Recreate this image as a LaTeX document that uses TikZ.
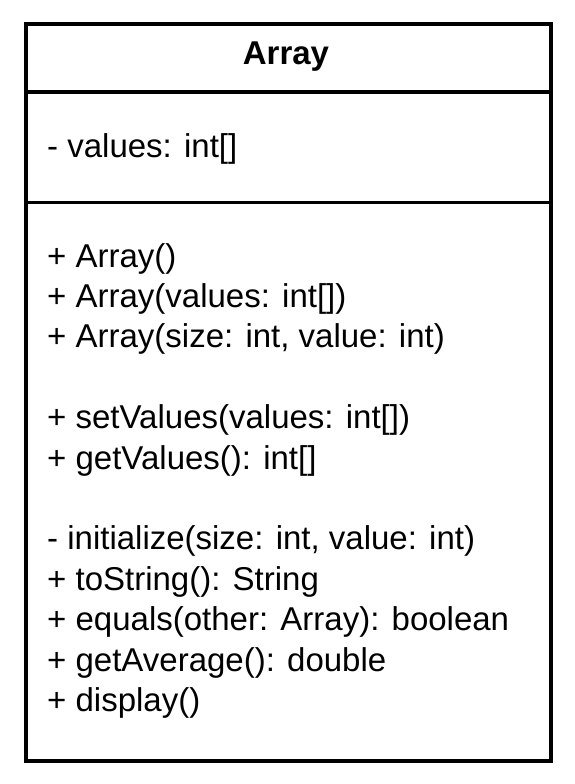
\documentclass[tikz,border=0pt]{standalone}
\usepackage{fontspec}
\setmainfont{Liberation Sans}
\begin{document}
\begin{tikzpicture}[x=1pt,y=-1pt,
  member/.style={anchor=base west,inner sep=0pt,font=\fontsize{33}{40}\selectfont},
  title/.style={anchor=base,inner sep=0pt,font=\fontsize{33}{40}\selectfont\bfseries},
  frame/.style={draw=black,line width=4pt},
  divider/.style={draw=black,line width=3.5pt}]
\useasboundingbox (0,0) rectangle (574,784);
\node[frame,minimum width=524.5pt,minimum height=736.5pt,anchor=north west,inner sep=0pt] (box) at (24,22) {};
\coordinate (d1l) at (24,92);
\coordinate (d1r) at (548.5,92);
\coordinate (d2l) at (24,202.7);
\coordinate (d2r) at (548.5,202.7);
\draw[divider] (d1l) -- (d1r);
\draw[divider] (d2l) -- (d2r);
\node[title] (name) at (286,64) {Array};
\node[member] (a1) at (47,157) {- values: int[]};
\node[member] (m1) at (47,267) {+ Array()};
\node[member] (m2) at (47,307.4) {+ Array(values: int[])};
\node[member] (m3) at (47,347.8) {+ Array(size: int, value: int)};
\node[member] (m4) at (47,428.6) {+ setValues(values: int[])};
\node[member] (m5) at (47,469) {+ getValues(): int[]};
\node[member] (m6) at (47,549.8) {- initialize(size: int, value: int)};
\node[member] (m7) at (47,590.2) {+ toString(): String};
\node[member] (m8) at (47,630.6) {+ equals(other: Array): boolean};
\node[member] (m9) at (47,671) {+ getAverage(): double};
\node[member] (m10) at (47,711.4) {+ display()};
\end{tikzpicture}
\end{document}
